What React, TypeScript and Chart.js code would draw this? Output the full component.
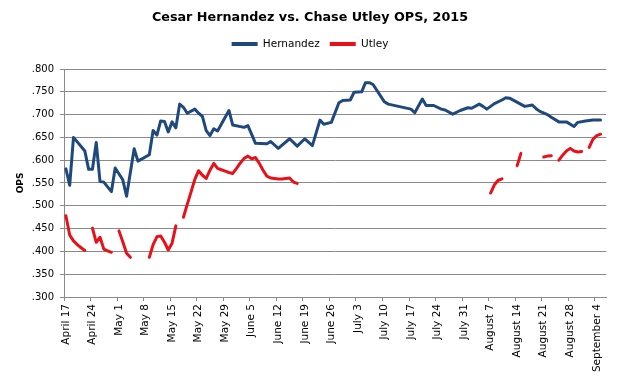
import React, { useEffect, useRef } from "react";
import { Chart, registerables } from "chart.js";

Chart.register(...registerables);

// ---------- data ----------
const TITLE = "Cesar Hernandez vs. Chase Utley OPS, 2015";
const SERIES_NAMES = ["Hernandez", "Utley"];
const SERIES_COLORS = ["#1F497D", "#E8111A"];
const MONTHS = ["January", "February", "March", "April", "May", "June", "July", "August", "September", "October", "November", "December"];
const FIRST_DAY = [2015, 3, 17]; // April 17, 2015
const DAY_COUNT = 143; // April 17 .. September 6
const TICK_EVERY = 7; // a labelled tick every week
const Y_MIN = 0.3;
const Y_MAX = 0.8;
const Y_STEP = 0.05;

// [day index from April 17, OPS]
const hernandezPoints: [number, number][] = [
  [0, 0.581], [1, 0.545], [2, 0.65], [5, 0.62], [6, 0.58], [7, 0.58], [8, 0.639], [9, 0.553],
  [10, 0.552], [12, 0.531], [13, 0.583], [15, 0.557], [16, 0.521], [18, 0.625], [19, 0.598],
  [22, 0.612], [23, 0.665], [24, 0.655], [25, 0.686], [26, 0.685], [27, 0.662], [28, 0.684],
  [29, 0.671], [30, 0.723], [31, 0.716], [32, 0.703], [34, 0.712], [35, 0.703], [36, 0.696],
  [37, 0.665], [38, 0.654], [39, 0.669], [40, 0.664], [43, 0.709], [44, 0.677], [47, 0.672],
  [48, 0.676], [50, 0.637], [53, 0.636], [54, 0.641], [56, 0.626], [59, 0.647], [61, 0.631],
  [63, 0.647], [65, 0.632], [67, 0.688], [68, 0.679], [70, 0.683], [72, 0.726], [73, 0.731],
  [75, 0.732], [76, 0.749], [78, 0.75], [79, 0.77], [80, 0.77], [81, 0.766], [84, 0.728],
  [85, 0.723], [91, 0.712], [92, 0.704], [94, 0.734], [95, 0.72], [97, 0.72], [99, 0.712],
  [100, 0.71], [102, 0.701], [104, 0.709], [106, 0.715], [107, 0.714], [109, 0.723], [110, 0.718],
  [111, 0.712], [113, 0.724], [115, 0.732], [116, 0.737], [117, 0.736], [121, 0.718], [123, 0.721],
  [124, 0.713], [125, 0.707], [127, 0.7], [128, 0.694], [130, 0.684], [132, 0.684], [134, 0.674],
  [135, 0.683], [137, 0.686], [139, 0.688], [141, 0.688],
];

const utleyPoints: [number, number][] = [
  [0, 0.478], [1, 0.436], [2, 0.423], [3, 0.415], [4, 0.408], [5, 0.402],
  [7, 0.451], [8, 0.42], [9, 0.431], [10, 0.405], [11, 0.401], [12, 0.398],
  [14, 0.445], [15, 0.421], [16, 0.396], [17, 0.387],
  [22, 0.387], [23, 0.415], [24, 0.432], [25, 0.434], [26, 0.42], [27, 0.403], [28, 0.418], [29, 0.456],
  [31, 0.475], [32, 0.503], [33, 0.53], [34, 0.558], [35, 0.577], [36, 0.567], [37, 0.56], [38, 0.578],
  [39, 0.593], [40, 0.582], [41, 0.579], [42, 0.576], [43, 0.573], [44, 0.571], [45, 0.582], [46, 0.594],
  [47, 0.604], [48, 0.609], [49, 0.603], [50, 0.606], [51, 0.593], [52, 0.578], [53, 0.565], [54, 0.561],
  [55, 0.56], [56, 0.559], [57, 0.559], [58, 0.56], [59, 0.561], [60, 0.552], [61, 0.549],
  [112, 0.528], [113, 0.546], [114, 0.556], [115, 0.559],
  [119, 0.588], [120, 0.615],
  [126, 0.607], [127, 0.609], [128, 0.61],
  [130, 0.6], [131, 0.611], [132, 0.62], [133, 0.626], [134, 0.62], [135, 0.618], [136, 0.619],
  [138, 0.628], [139, 0.646], [140, 0.654], [141, 0.657],
];

// ---------- helpers ----------
const dayLabels: string[] = Array.from({ length: DAY_COUNT }, (_, i) => {
  const d = new Date(FIRST_DAY[0], FIRST_DAY[1], FIRST_DAY[2] + i);
  return `${MONTHS[d.getMonth()]} ${d.getDate()}`;
});

function toSeries(points: [number, number][]): (number | null)[] {
  const arr: (number | null)[] = new Array(DAY_COUNT).fill(null);
  points.forEach(([d, v]) => {
    arr[d] = v;
  });
  return arr;
}

const FONT = "'DejaVu Sans', Verdana, sans-serif";
const GRID = "#8a8a8a";
const LEGEND_GAP = 9.7;

const legendSpacer = {
  id: "legendSpacer",
  beforeInit(chart: any) {
    const legend = chart.legend;
    if (!legend) return;
    const fit = legend.fit;
    legend.fit = function () {
      fit.call(this);
      this.height += LEGEND_GAP;
    };
  },
};

export default function App() {
  const ref = useRef<HTMLCanvasElement>(null);

  useEffect(() => {
    if (!ref.current) return;
    const chart = new Chart(ref.current, {
      type: "line",
      data: {
        labels: dayLabels,
        datasets: [
          {
            label: SERIES_NAMES[0],
            data: toSeries(hernandezPoints),
            borderColor: SERIES_COLORS[0],
            backgroundColor: SERIES_COLORS[0],
            borderWidth: 3,
            pointRadius: 0,
            pointHoverRadius: 0,
            tension: 0,
            spanGaps: true,
            borderJoinStyle: "round",
            borderCapStyle: "round",
          },
          {
            label: SERIES_NAMES[1],
            data: toSeries(utleyPoints),
            borderColor: SERIES_COLORS[1],
            backgroundColor: SERIES_COLORS[1],
            borderWidth: 3,
            pointRadius: 0,
            pointHoverRadius: 0,
            tension: 0,
            spanGaps: false,
            borderJoinStyle: "round",
            borderCapStyle: "round",
          },
        ],
      },
      options: {
        responsive: false,
        animation: false,
        layout: { padding: { left: 0, right: 0, top: 0, bottom: 0 } },
        plugins: {
          title: {
            display: true,
            text: TITLE,
            color: "#000",
            font: { family: FONT, size: 12.75, weight: "bold" },
            padding: { top: 10, bottom: 3.5 },
          },
          legend: {
            display: true,
            position: "top",
            labels: {
              usePointStyle: true,
              pointStyle: "line",
              pointStyleWidth: 26,
              color: "#000",
              padding: 10,
              font: { family: FONT, size: 10.5 },
              generateLabels: (c: any) =>
                Chart.defaults.plugins.legend.labels
                  .generateLabels(c)
                  .map((it: any) => ({ ...it, lineWidth: 4, pointStyle: "line" })),
            },
          },
          tooltip: { enabled: false },
        },
        scales: {
          x: {
            type: "category",
            offset: true,
            grid: {
              display: true,
              offset: true,
              drawOnChartArea: false,
              drawTicks: true,
              tickLength: 4,
              color: (c: any) =>
                c.index !== undefined && c.index % TICK_EVERY === 0 ? GRID : "rgba(0,0,0,0)",
            },
            border: { display: true, color: GRID, width: 1 },
            ticks: {
              autoSkip: false,
              minRotation: 90,
              maxRotation: 90,
              padding: 3,
              color: "#000",
              font: { family: FONT, size: 10.5 },
              callback: (_v: any, i: number) => (i % TICK_EVERY === 0 ? dayLabels[i] : ""),
            },
            afterFit: (s: any) => {
              s.height = 84;
            },
          },
          y: {
            min: Y_MIN,
            max: Y_MAX,
            grid: { color: GRID, lineWidth: 1, tickLength: 4 },
            border: { display: true, color: GRID, width: 1 },
            ticks: {
              stepSize: Y_STEP,
              padding: 6,
              color: "#000",
              font: { family: FONT, size: 10 },
              callback: (v: any) => Number(v).toFixed(3).replace(/^0/, ""),
            },
            title: {
              display: true,
              text: "OPS",
              color: "#000",
              font: { family: FONT, size: 9, weight: "bold" },
              padding: { top: 15, bottom: 0 },
            },
            afterFit: (s: any) => {
              s.width = 64;
            },
          },
          yRightSpace: {
            type: "linear",
            position: "right",
            display: true,
            grid: { display: false, drawTicks: false, drawOnChartArea: false },
            border: { display: false },
            ticks: { display: false },
            afterFit: (s: any) => {
              s.width = 13.3;
            },
          },
        },
      },
      plugins: [legendSpacer],
    });
    return () => chart.destroy();
  }, []);

  return (
    <div style={{ position: "absolute", left: 0, top: 0, width: 620, height: 381, background: "#fff" }}>
      <canvas ref={ref} width={620} height={381} style={{ display: "block" }} />
    </div>
  );
}
